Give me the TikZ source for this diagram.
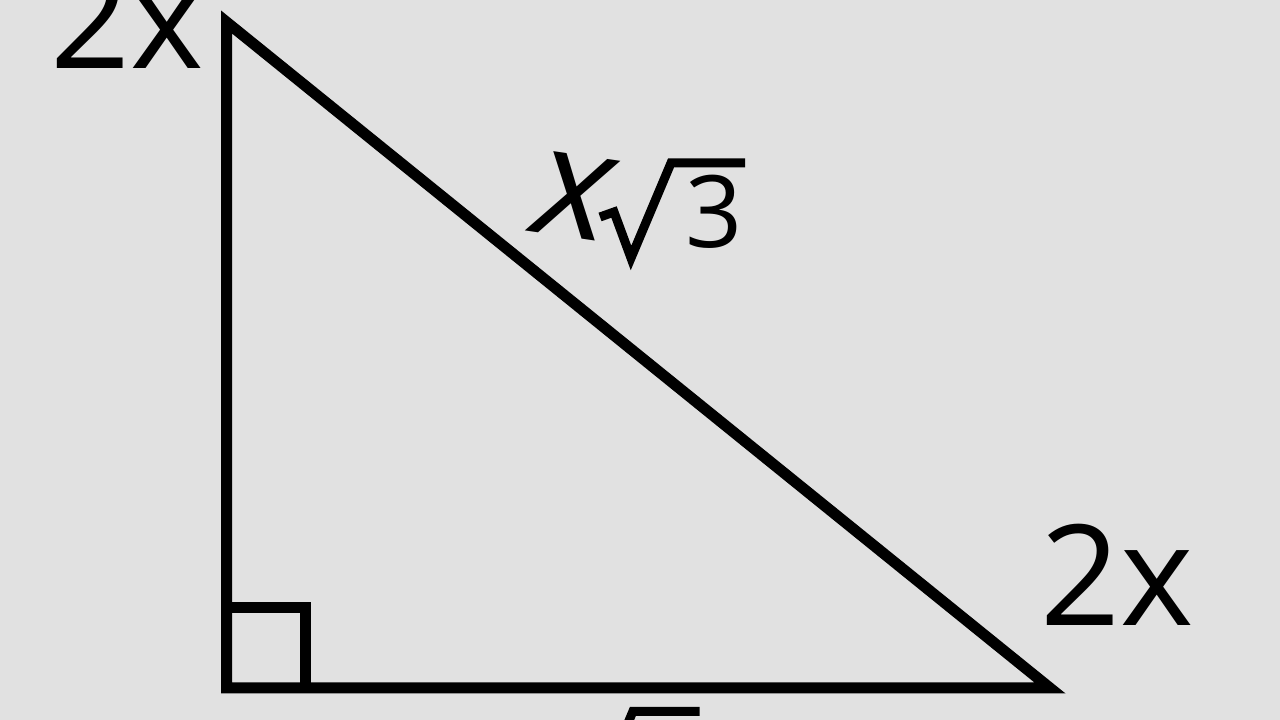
\documentclass[tikz,border=0pt]{standalone}
\usepackage{fontspec}
\setmainfont{Open Sans}
\usetikzlibrary{positioning}
\definecolor{paper}{RGB}{225,225,225}
\tikzset{
  side/.style={line width=11pt,line join=miter},
  radix/.style={line width=9pt,line join=miter},
  lbl/.style={inner sep=0pt,anchor=base west,font=\fontsize{140}{150}\selectfont},
  rootsign/.pic={\draw[radix] (0,0) -- (14,5) -- (31,-41) -- (71,54) -- (145,54);}
}
\begin{document}
\begin{tikzpicture}[x=1pt,y=1pt]

\fill[paper] (0,0) rectangle (1280,720);
\useasboundingbox (0,0) rectangle (1280,720);
\clip (0,0) rectangle (1280,720);

% triangle
\coordinate (top) at (226.5,698);
\coordinate (corner) at (226.5,32);
\coordinate (right) at (1050,32);
\draw[side] (top) -- (corner) -- (right) -- cycle;
% right angle mark
\coordinate (markA) at (226.5,112);
\coordinate (markB) at (305.5,32);
\draw[side] (markA) -| (markB);

% labels
\node[lbl] (topx) at (50,651) {2x};
\node[lbl] (rightx) at (1040,94) {2x};
\node[lbl,font=\fontsize{150}{160}\selectfont,xslant=0.2,rotate=-8] (hypx) at (522,490) {x};
\node[lbl,font=\fontsize{100}{110}\selectfont] (hypthree) at (685,472) {3};
\pic at (600,503) {rootsign};
\pic[scale=0.9] at (569,-40) {rootsign};
\end{tikzpicture}
\end{document}
